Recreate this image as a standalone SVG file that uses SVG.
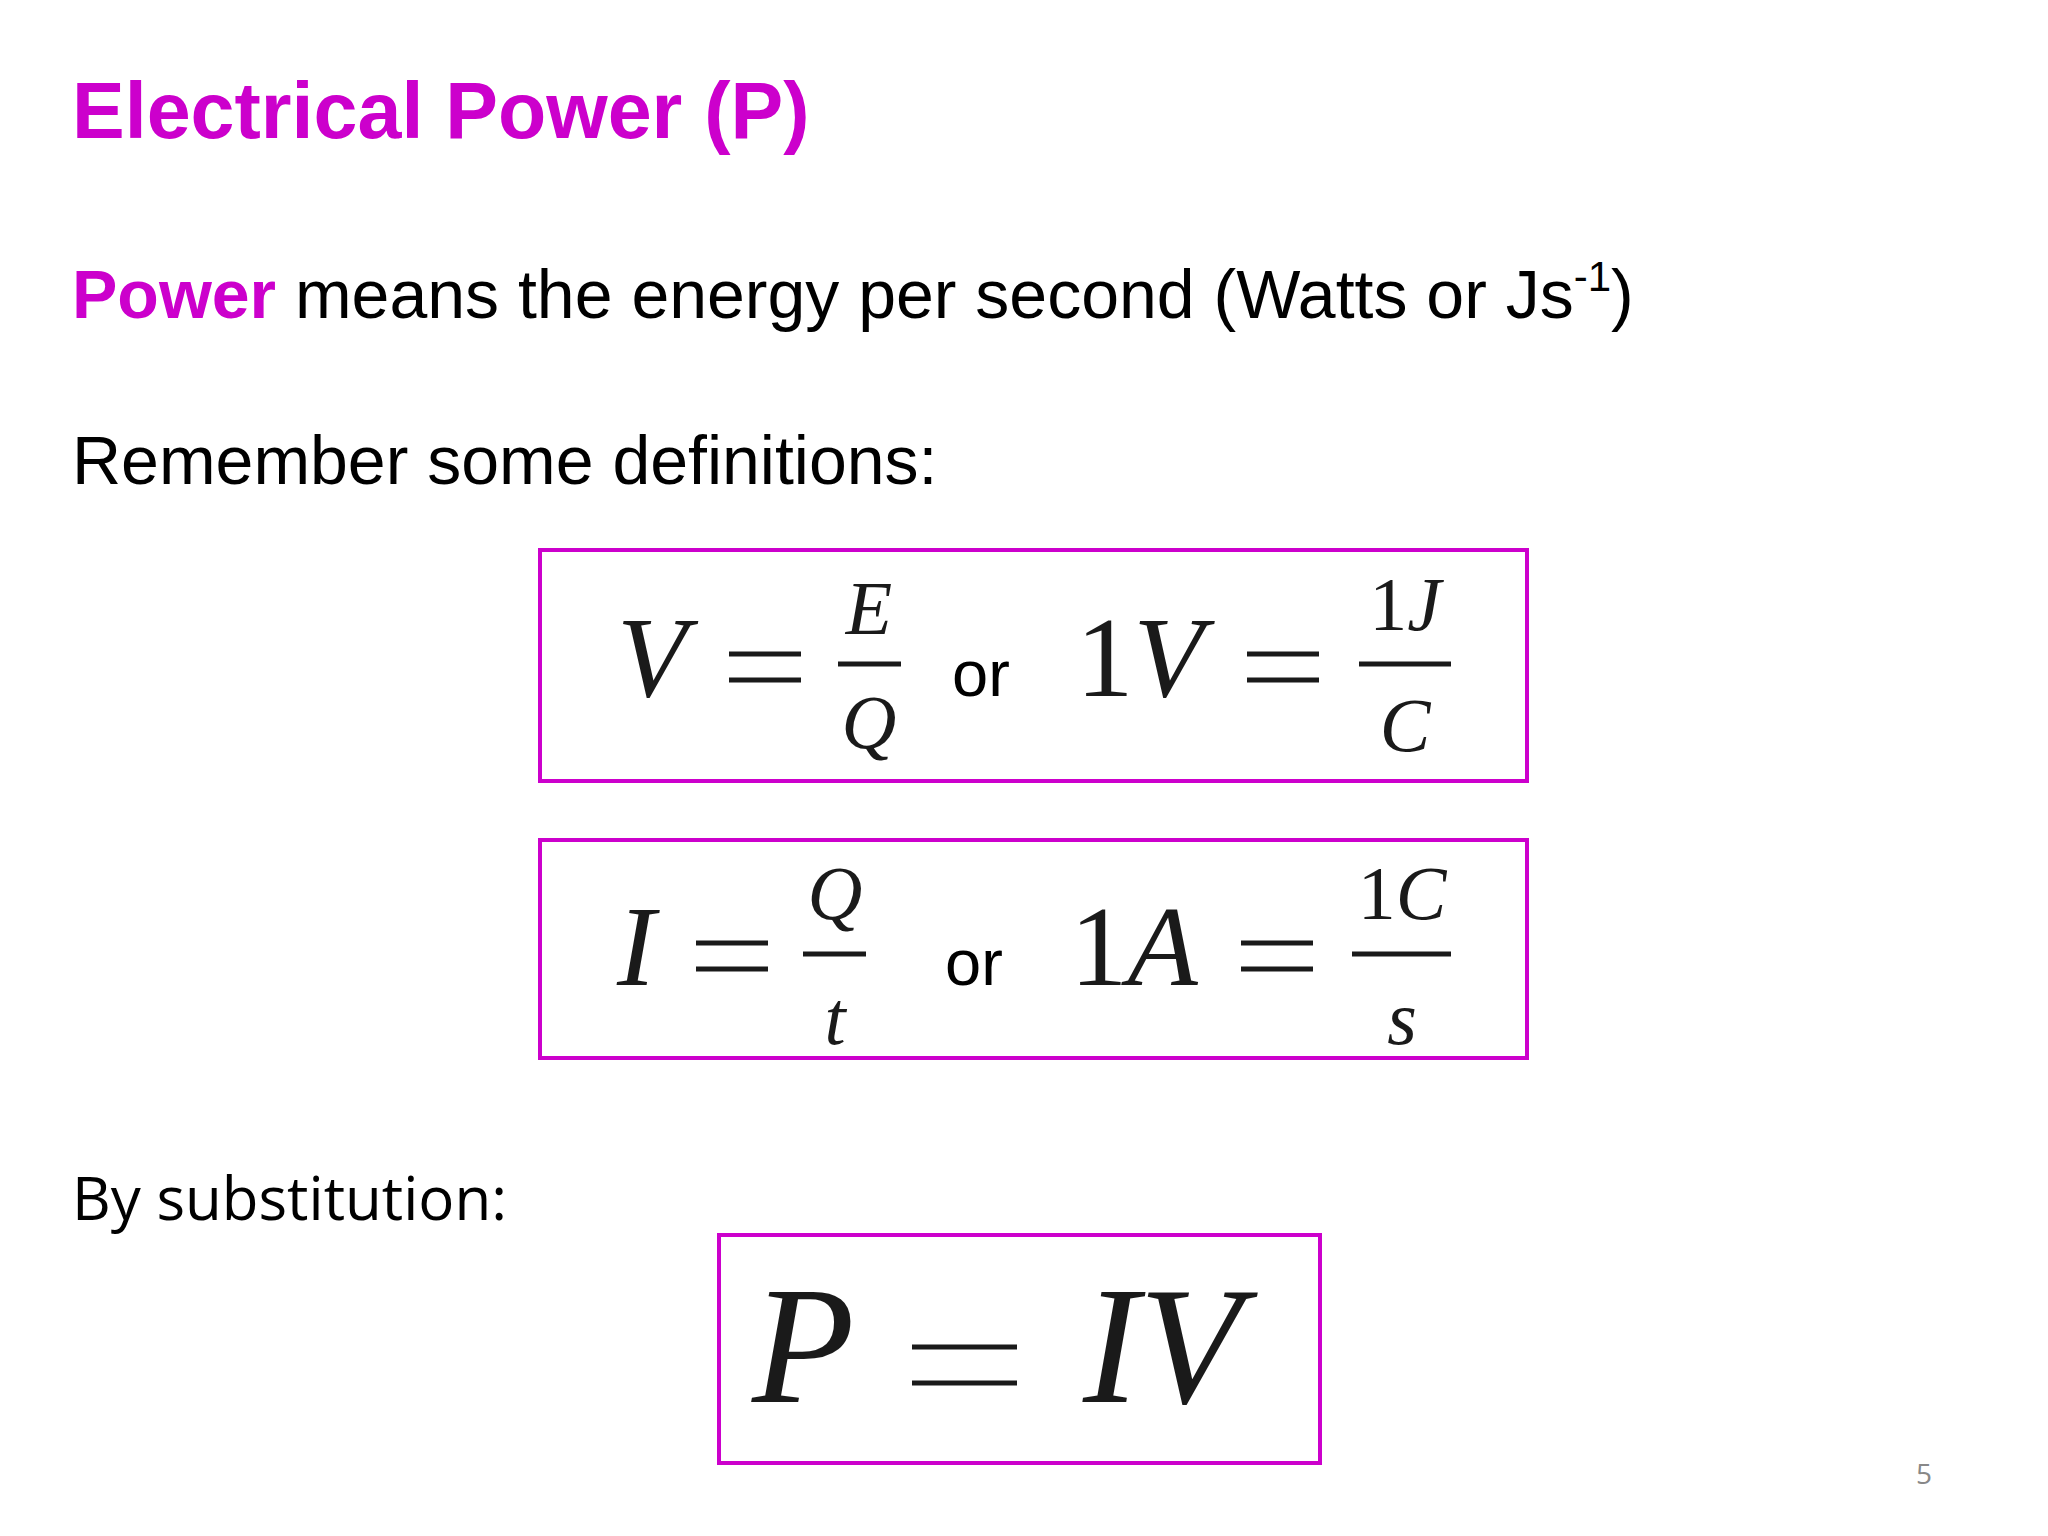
<svg xmlns="http://www.w3.org/2000/svg" width="2048" height="1536" viewBox="0 0 2048 1536">
<style>
.s{font-family:"Liberation Sans",Arial,sans-serif;fill:#000}
.m{font-family:"Liberation Serif","DejaVu Serif",serif;font-style:italic;fill:#1a1a1a}
.box{fill:none;stroke:#cc00cc;stroke-width:4}
.ln{stroke:#1a1a1a;stroke-width:5}
</style>
<rect width="2048" height="1536" fill="#fff"/>
<text x="72" y="138" class="s" font-size="79" font-weight="bold" style="fill:#cc00cc">Electrical Power (P)</text>
<text x="72" y="318" class="s" font-size="68"><tspan font-weight="bold" style="fill:#cc00cc">Power</tspan> means the energy per second (Watts or Js<tspan font-size="42" dy="-27">-1</tspan><tspan dy="27">)</tspan></text>
<text x="72" y="484" class="s" font-size="68">Remember some definitions:</text>
<g id="box1">
<rect x="540" y="550" width="987" height="231" class="box"/>
<text x="617" y="696" class="m" font-size="115">V</text>
<line x1="729" y1="654" x2="801" y2="654" class="ln"/><line x1="729" y1="680" x2="801" y2="680" class="ln"/>
<text x="869" y="634" class="m" font-size="76" text-anchor="middle">E</text>
<line x1="838" y1="664" x2="901" y2="664" class="ln"/>
<text x="869" y="748" class="m" font-size="76" text-anchor="middle">Q</text>
<text x="952" y="696" class="s" font-size="65">or</text>
<text x="1076" y="696" class="m" font-size="115"><tspan font-style="normal">1</tspan>V</text>
<line x1="1247" y1="654" x2="1319" y2="654" class="ln"/><line x1="1247" y1="680" x2="1319" y2="680" class="ln"/>
<text x="1405" y="630" class="m" font-size="76" text-anchor="middle"><tspan font-style="normal">1</tspan>J</text>
<line x1="1359" y1="664" x2="1451" y2="664" class="ln"/>
<text x="1405" y="751" class="m" font-size="76" text-anchor="middle">C</text>
</g>
<g id="box2">
<rect x="540" y="840" width="987" height="218" class="box"/>
<text x="617" y="985" class="m" font-size="115">I</text>
<line x1="696" y1="943" x2="768" y2="943" class="ln"/><line x1="696" y1="969" x2="768" y2="969" class="ln"/>
<text x="835" y="919" class="m" font-size="76" text-anchor="middle">Q</text>
<line x1="803" y1="954" x2="866" y2="954" class="ln"/>
<text x="835" y="1044" class="m" font-size="76" text-anchor="middle">t</text>
<text x="945" y="985" class="s" font-size="65">or</text>
<text x="1070" y="985" class="m" font-size="115"><tspan font-style="normal">1</tspan>A</text>
<line x1="1241" y1="943" x2="1313" y2="943" class="ln"/><line x1="1241" y1="969" x2="1313" y2="969" class="ln"/>
<text x="1402" y="919" class="m" font-size="76" text-anchor="middle"><tspan font-style="normal">1</tspan>C</text>
<line x1="1352" y1="954" x2="1451" y2="954" class="ln"/>
<text x="1402" y="1044" class="m" font-size="76" text-anchor="middle">s</text>
</g>
<text x="72" y="1220" font-family="'Open Sans','Liberation Sans',sans-serif" font-size="60">By substitution:</text>
<g id="box3">
<rect x="719" y="1235" width="601" height="228" class="box" stroke-width="5"/>
<text x="752" y="1402" class="m" font-size="168">P</text>
<line x1="912" y1="1347" x2="1017" y2="1347" class="ln" stroke-width="9"/><line x1="912" y1="1383" x2="1017" y2="1383" class="ln" stroke-width="9"/>
<text x="1083" y="1402" class="m" font-size="168">IV</text>
</g>
<text x="1916" y="1484" font-family="'Open Sans','Liberation Sans',sans-serif" font-size="28" fill="#888">5</text>
</svg>
